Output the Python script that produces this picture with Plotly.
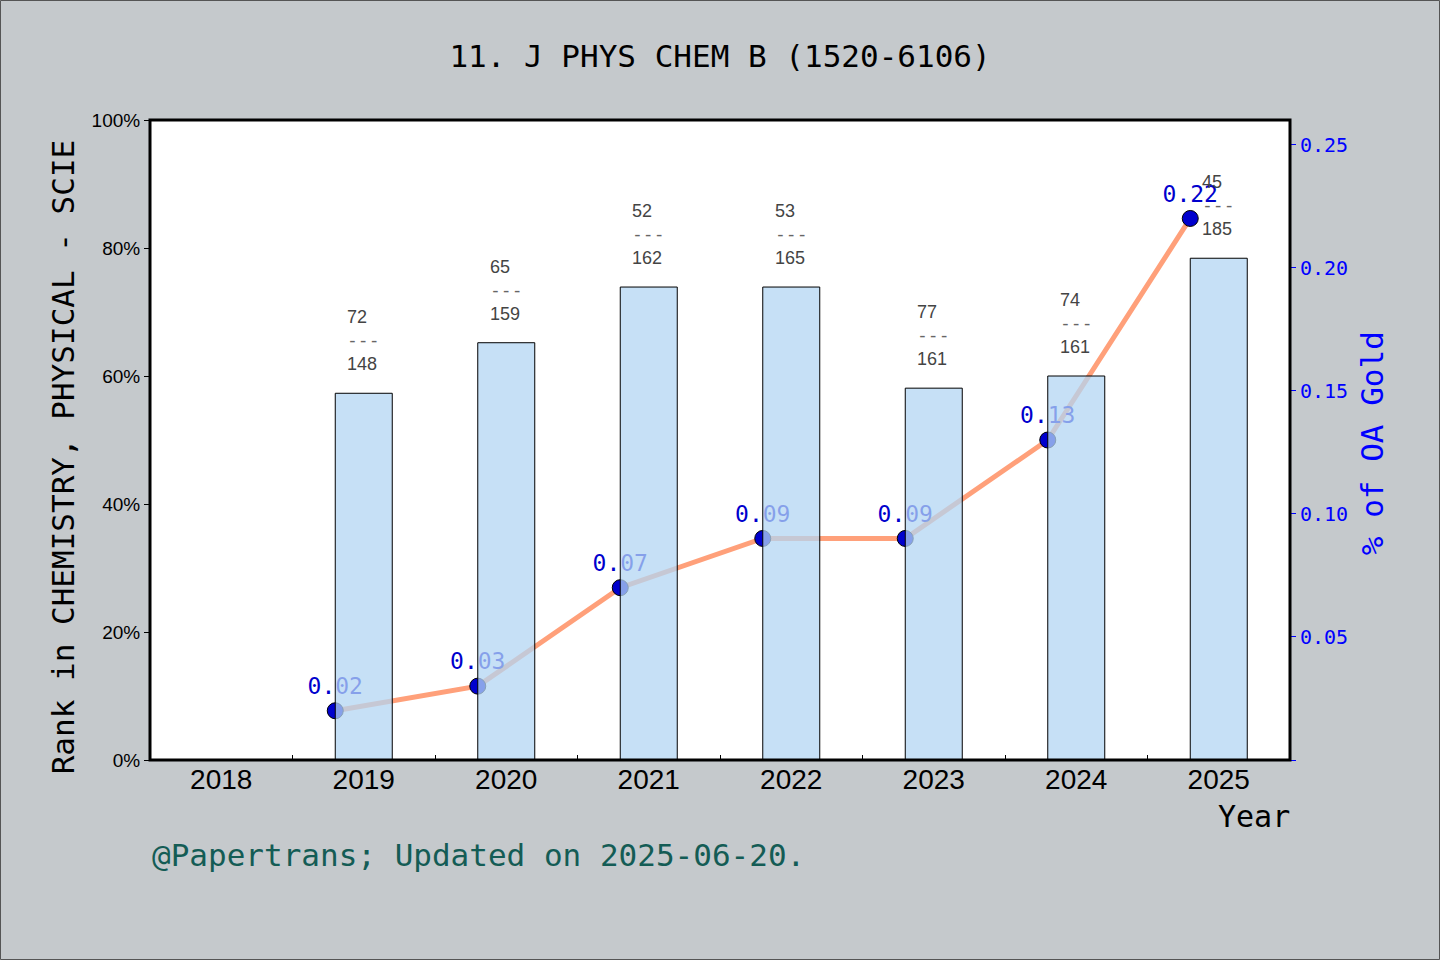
import plotly.graph_objects as go

# data
axis_years = [2018, 2019, 2020, 2021, 2022, 2023, 2024, 2025]
years = [2019, 2020, 2021, 2022, 2023, 2024, 2025]
rank_pct = [0.573, 0.652, 0.739, 0.739, 0.581, 0.600, 0.784]
ranks = [72, 65, 52, 53, 77, 74, 45]
totals = [148, 159, 162, 165, 161, 161, 185]
oa_gold = [0.02, 0.03, 0.07, 0.09, 0.09, 0.13, 0.22]
oa_ticks = [0, 0.05, 0.10, 0.15, 0.20, 0.25]
oa_ticktext = ["", "0.05", "0.10", "0.15", "0.20", "0.25"]

MONO = "DejaVu Sans Mono"
SANS = "Liberation Sans"
BAR_W = 0.4

fig = go.Figure()

# OA gold line (drawn underneath the bars, on the right axis)
fig.add_trace(go.Scatter(
    x=[y - BAR_W / 2 for y in years],
    y=oa_gold,
    yaxis="y",
    mode="lines+markers+text",
    line=dict(color="#ffa07a", width=5),
    marker=dict(size=16, color="#0000cd", line=dict(color="black", width=1)),
    text=[f"{v:.2f}" for v in oa_gold],
    textposition="top center",
    textfont=dict(family=MONO, size=23, color="#0000cd"),
    showlegend=False,
))

# rank bars, semi-transparent on top
fig.add_trace(go.Bar(
    x=years,
    y=rank_pct,
    yaxis="y2",
    width=BAR_W,
    marker=dict(color="rgba(179,214,243,0.75)", line=dict(color="black", width=1)),
    showlegend=False,
))

annotations = []
for yr, p, r, t in zip(years, rank_pct, ranks, totals):
    annotations.append(dict(
        x=yr, y=p, xref="x", yref="y2",
        text=f"{r}<br><span style='font-family:DejaVu Sans Mono;color:#666666'>---</span><br>{t}",
        showarrow=False, align="left",
        xanchor="center", yanchor="bottom", yshift=17,
        font=dict(family=SANS, size=18, color="#444444"),
    ))

annotations += [
    dict(x=-0.0763, y=0.473, xref="paper", yref="paper",
         xanchor="center", yanchor="middle",
         text="Rank in CHEMISTRY, PHYSICAL - SCIE", textangle=-90,
         showarrow=False, font=dict(family=MONO, size=31, color="black")),
    dict(x=1.0719, y=0.495, xref="paper", yref="paper",
         xanchor="center", yanchor="middle",
         text="% of OA Gold", textangle=-90,
         showarrow=False, font=dict(family=MONO, size=31, color="blue")),
    dict(x=0.968, y=-0.089, xref="paper", yref="paper",
         xanchor="center", yanchor="middle",
         text="Year", showarrow=False,
         font=dict(family=MONO, size=30, color="black")),
    dict(x=0.0, y=-0.148, xref="paper", yref="paper",
         xanchor="left", yanchor="middle",
         text="@Papertrans; Updated on 2025-06-20.", showarrow=False,
         font=dict(family=MONO, size=31, color="#145c55")),
]

fig.update_layout(
    template="none",
    width=1440, height=960,
    margin=dict(l=150, r=150, t=120, b=200),
    paper_bgcolor="#c5c9cc",
    plot_bgcolor="white",
    title=dict(text="11. J PHYS CHEM B (1520-6106)", x=0.5, xanchor="center",
               y=1 - 56 / 960, yanchor="middle",
               font=dict(family=MONO, size=31, color="black")),
    xaxis=dict(
        range=[2017.5, 2025.5],
        tickvals=axis_years, ticktext=[str(y) for y in axis_years],
        ticks="", showgrid=False, zeroline=False,
        tickfont=dict(family=SANS, size=28, color="black"),
        minor=dict(tickmode="linear", tick0=2017.5, dtick=1, ticks="inside",
                   ticklen=5, tickwidth=1, tickcolor="black", showgrid=False),
    ),
    yaxis=dict(
        side="right", range=[0, 0.26],
        tickvals=oa_ticks, ticktext=oa_ticktext,
        ticks="outside", ticklen=5, tickcolor="blue", tickwidth=1,
        tickfont=dict(family=MONO, size=20, color="blue"),
        showgrid=False, zeroline=False,
    ),
    yaxis2=dict(
        overlaying="y", side="left", range=[0, 1],
        dtick=0.2, tickformat=".0%",
        ticks="outside", ticklen=5, tickcolor="black", tickwidth=1,
        tickfont=dict(family=SANS, size=19, color="black"),
        showgrid=False, zeroline=False,
    ),
    annotations=annotations,
    shapes=[
        dict(type="rect", xref="paper", yref="paper", x0=0, x1=1, y0=0, y1=1,
             line=dict(color="black", width=3), layer="above"),
        dict(type="rect", xref="paper", yref="paper",
             x0=-149.5 / 1140, x1=1 + 149.5 / 1140, y0=-199.5 / 640, y1=1 + 119.5 / 640,
             line=dict(color="#555555", width=1), layer="below"),
    ],
)

fig.write_html("out.html", config={"displayModeBar": False},
               post_script="document.body.style.margin='0px';")
